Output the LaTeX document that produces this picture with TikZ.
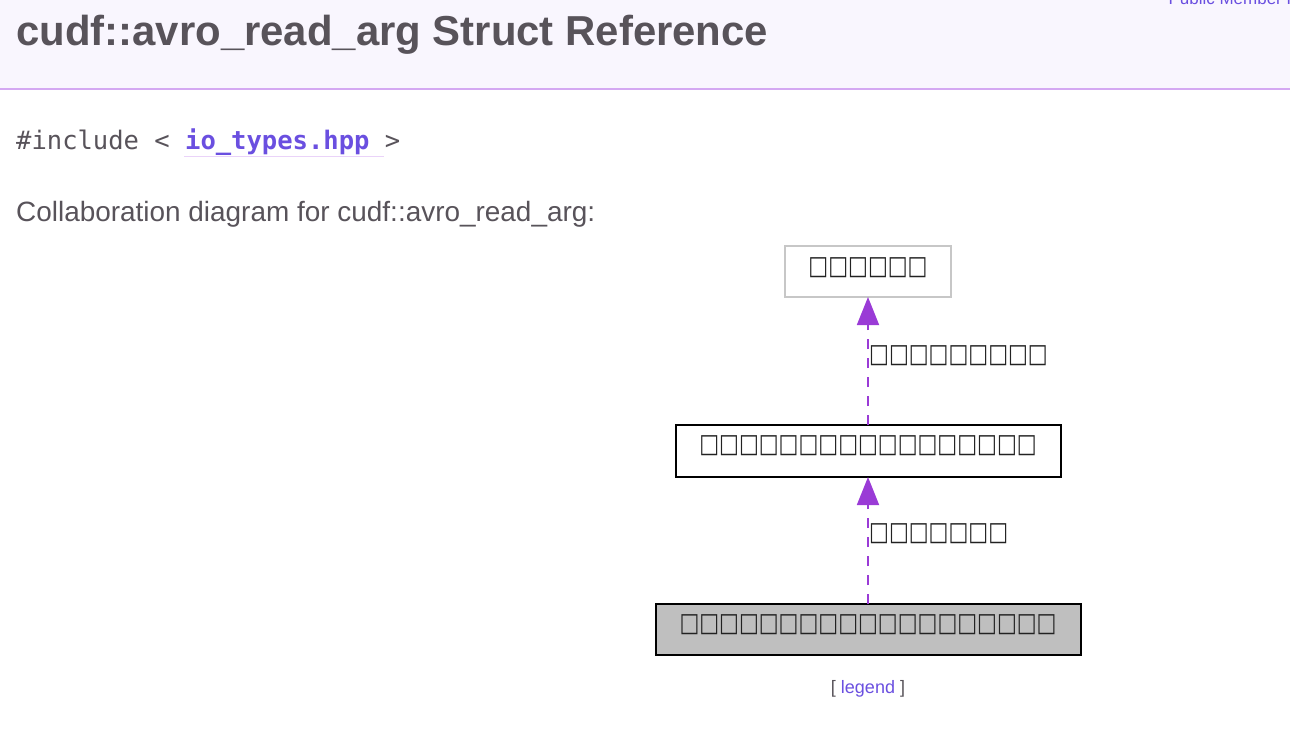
\documentclass[tikz,border=0pt]{standalone}
\usepackage{fontspec}
\usepackage{graphicx}
\setmainfont{Liberation Sans}
\newfontfamily\boxfont{DejaVu Sans}
\newfontfamily\monof{DejaVu Sans Mono}
\usetikzlibrary{arrows.meta}
\definecolor{hdr}{HTML}{F9F6FE}
\definecolor{hline}{HTML}{D4A8F2}
\definecolor{txt}{HTML}{58535A}
\definecolor{lnk}{HTML}{6A4FE0}
\definecolor{edge}{HTML}{9A3BD6}
\definecolor{glyph}{HTML}{222222}
\newcommand{\gls}[1]{\scalebox{1}[1.25]{\boxfont\bfseries\fontsize{21}{21}\selectfont #1}}
\begin{document}
\begin{tikzpicture}[x=1pt,y=-1pt,
  cls/.style={draw, line width=1.8pt, inner sep=0pt},
  gl/.style={text=glyph, inner sep=0pt},
  dep/.style={draw=edge, line width=1.8pt, dash pattern=on 10pt off 9pt, -{Triangle[length=28pt,width=22pt]}}]
\useasboundingbox (0,0) rectangle (1290,740);
\fill[hdr] (0,0) rectangle (1290,89);
\draw[hline, line width=1.5pt] (0,89) -- (1290,89);
\node[anchor=base east, text=lnk, font=\fontsize{17}{17}\selectfont] (pm) at (1310,4) {Public Member Fu};
\node[anchor=base west, text=txt, inner sep=0pt] (title) at (16,45) {\resizebox{752pt}{!}{\bfseries\fontsize{36}{36}\selectfont cudf::avro\_read\_arg Struct Reference}};
\node[anchor=base west, text=txt, inner sep=0pt] (inc) at (16,149) {\resizebox{384pt}{!}{\monof\fontsize{23}{23}\selectfont \#include <\ {\color{lnk}\bfseries io\_types.hpp}\ >}};
\node[anchor=base west, text=txt, inner sep=0pt] (collab) at (16,221) {\resizebox{579pt}{!}{\fontsize{24}{24}\selectfont Collaboration diagram for cudf::avro\_read\_arg:}};
\draw[hline!50, line width=1pt] (184,156) -- (384,156);
% boxes
\draw[cls, draw=black!22] (785,246) rectangle (951,297);
\node[gl] (top) at (868,268) {\gls{□□□□□□}};
\draw[cls] (676,425) rectangle (1061,477);
\node[gl] (mid) at (868,446) {\gls{□□□□□□□□□□□□□□□□□}};
\draw[cls, fill=black!25] (656,604) rectangle (1081,655);
\node[gl] (bot) at (868,625) {\gls{□□□□□□□□□□□□□□□□□□□}};
\coordinate (topb) at (868,297);
\coordinate (midt) at (868,425);
\coordinate (midb) at (868,477);
\coordinate (bott) at (868,604);
\draw[dep] (midt) -- (topb);
\draw[dep] (bott) -- (midb);
\node[gl, anchor=west] (l1) at (869,356) {\gls{□□□□□□□□□}};
\node[gl, anchor=west] (l2) at (869,534) {\gls{□□□□□□□}};
\node[font=\fontsize{18}{18}\selectfont, text=txt] (leg) at (868,689) {[ {\color{lnk}legend} ]};
\end{tikzpicture}
\end{document}
